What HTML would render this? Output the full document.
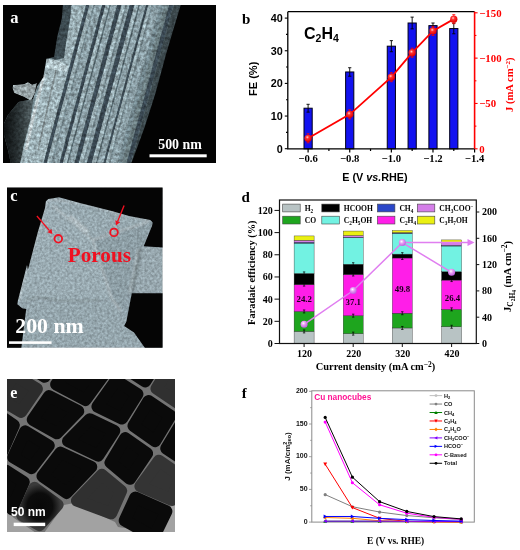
<!DOCTYPE html><html><head><meta charset="utf-8"><title>Figure</title><style>html,body{margin:0;padding:0;background:#fff;}body{width:520px;height:550px;overflow:hidden}svg{display:block}</style></head><body>
<svg width="520" height="550" viewBox="0 0 520 550">
<defs>
<filter id="soft" x="-5%" y="-5%" width="110%" height="110%"><feGaussianBlur stdDeviation="0.55"/></filter>
<filter id="soft2" x="-5%" y="-5%" width="110%" height="110%"><feGaussianBlur stdDeviation="1.2"/></filter>
<filter id="tex2" x="0" y="0" width="100%" height="100%" color-interpolation-filters="sRGB"><feTurbulence type="fractalNoise" baseFrequency="0.32" numOctaves="3" seed="11" result="n0"/><feGaussianBlur in="n0" stdDeviation="0.6" result="n1"/><feColorMatrix in="n1" type="matrix" values="0 0 0 1 0  0 0 0 1 0  0 0 0 1 0  0 0 0 0 1" result="m"/><feComposite in="SourceGraphic" in2="m" operator="arithmetic" k1="0.9" k2="0.55" k3="0" k4="0" result="b"/><feComposite in="b" in2="SourceGraphic" operator="in"/></filter>
<filter id="tex" x="0" y="0" width="100%" height="100%" color-interpolation-filters="sRGB"><feTurbulence type="fractalNoise" baseFrequency="0.4" numOctaves="2" seed="5" result="n0"/><feGaussianBlur in="n0" stdDeviation="0.5" result="n1"/><feColorMatrix in="n1" type="matrix" values="0 0 0 1 0  0 0 0 1 0  0 0 0 1 0  0 0 0 0 1" result="m"/><feComposite in="SourceGraphic" in2="m" operator="arithmetic" k1="0.5" k2="0.75" k3="0" k4="0" result="b"/><feComposite in="b" in2="SourceGraphic" operator="in"/></filter>
<radialGradient id="grim" cx="0.5" cy="0.5" r="0.6"><stop offset="0" stop-color="#080808"/><stop offset="0.6" stop-color="#0c0c0c"/><stop offset="1" stop-color="#3a3a3a"/></radialGradient>
<radialGradient id="rball" cx="0.4" cy="0.35" r="0.65"><stop offset="0" stop-color="#ffd0d0"/><stop offset="0.35" stop-color="#ff3030"/><stop offset="1" stop-color="#e00000"/></radialGradient>
<radialGradient id="pball" cx="0.4" cy="0.35" r="0.65"><stop offset="0" stop-color="#ffffff"/><stop offset="0.4" stop-color="#e8a0f4"/><stop offset="1" stop-color="#c060e0"/></radialGradient>
</defs>
<rect width="520" height="550" fill="#fff"/>
<g id="pa"><defs><clipPath id="ca"><rect x="3" y="5" width="213" height="158"/></clipPath><linearGradient id="ga" x1="0" x2="1" y1="0" y2="0"><stop offset="0" stop-color="#0c0f10"/><stop offset="0.5" stop-color="#2a3234"/><stop offset="1" stop-color="#566366"/></linearGradient></defs>
<rect x="3" y="5" width="213" height="158" fill="#030303"/>
<g clip-path="url(#ca)">
<clipPath id="cb"><polygon points="63,4 61.8,18.5 57.2,37 54,57 46.4,58.7 43.3,77.3 37,86.5 33,99 18.5,102 8,115 4,123.6 4,135 8,150 11,164 131,164 137,148 144.8,126.7 155.6,92.7 166.5,52.5 181,4"/></clipPath>
<g clip-path="url(#cb)" filter="url(#tex2)">
<polygon points="63,4 61.8,18.5 57.2,37 54,57 46.4,58.7 43.3,77.3 37,86.5 33,99 18.5,102 8,115 4,123.6 4,135 8,150 11,164 131,164 137,148 144.8,126.7 155.6,92.7 166.5,52.5 181,4" fill="#7f8b8e"/>
<g filter="url(#soft)">
<polygon points="-39.75,-5 70.25,-5 21.65,175 -88.35,175" fill="#72868d"/>
<polygon points="70.25,-5 88.75,-5 40.15,175 21.65,175" fill="#98acb2"/>
<polygon points="88.75,-5 92.25,-5 43.65,175 40.15,175" fill="#3a4a52"/>
<polygon points="92.25,-5 96.25,-5 47.65,175 43.65,175" fill="#98acb2"/>
<polygon points="96.25,-5 97.75,-5 49.15,175 47.65,175" fill="#72868d"/>
<polygon points="97.75,-5 104.85,-5 56.25,175 49.15,175" fill="#8ca0a7"/>
<polygon points="104.85,-5 108.25,-5 59.65,175 56.25,175" fill="#3a4a52"/>
<polygon points="108.25,-5 112.25,-5 63.65,175 59.65,175" fill="#98acb2"/>
<polygon points="112.25,-5 113.75,-5 65.15,175 63.65,175" fill="#52656c"/>
<polygon points="113.75,-5 119.85,-5 71.25,175 65.15,175" fill="#8ca0a7"/>
<polygon points="119.85,-5 124.25,-5 75.65,175 71.25,175" fill="#3a4a52"/>
<polygon points="124.25,-5 128.25,-5 79.65,175 75.65,175" fill="#98acb2"/>
<polygon points="128.25,-5 129.75,-5 81.15,175 79.65,175" fill="#72868d"/>
<polygon points="129.75,-5 132.25,-5 83.65,175 81.15,175" fill="#8ca0a7"/>
<polygon points="132.25,-5 137.25,-5 88.65,175 83.65,175" fill="#3a4a52"/>
<polygon points="137.25,-5 141.25,-5 92.65,175 88.65,175" fill="#98acb2"/>
<polygon points="141.25,-5 142.75,-5 94.15,175 92.65,175" fill="#52656c"/>
<polygon points="142.75,-5 148.75,-5 100.15,175 94.15,175" fill="#8ca0a7"/>
<polygon points="148.75,-5 151.05,-5 102.45,175 100.15,175" fill="#3a4a52"/>
<polygon points="151.05,-5 154.25,-5 105.65,175 102.45,175" fill="#98acb2"/>
<polygon points="154.25,-5 155.75,-5 107.15,175 105.65,175" fill="#72868d"/>
<polygon points="155.75,-5 162.55,-5 113.95,175 107.15,175" fill="#8ca0a7"/>
<polygon points="162.55,-5 167.25,-5 118.65,175 113.95,175" fill="#72868d"/>
<polygon points="167.25,-5 171.75,-5 123.15,175 118.65,175" fill="#6a7c80"/>
<polygon points="171.75,-5 176.25,-5 127.65,175 123.15,175" fill="#3a4a52"/>
<polygon points="176.25,-5 220.25,-5 171.65,175 127.65,175" fill="#3a474c"/>
</g>
<polygon points="58,0 72,0 70,20 66.5,40 64,58 56,60 50,58 54,40" fill="#3c4a50"/>
<polygon points="33,99 18.5,102 8,115 4,123.6 4,135 8,150 11,164 24,164 28,140 31,118" fill="url(#ga)"/>
<polygon points="46.4,58.7 60,61 68,66.4 63,85 56,110 49,140 43,164 20,164 24,145 30.9,117.4 37,92.7 43.3,77.3" fill="#9fb3b9"/>
<polygon points="46.4,58.7 60,61 68,66.4 66.5,72 52,69 45,68" fill="#b4c6cb"/>
<path d="M44 75 L33 118 L26 150" stroke="#c0cbce" stroke-width="3" fill="none"/>
<path d="M56 70 L47 110 L38 150" stroke="#7c888b" stroke-width="1.5" fill="none"/>
</g>
<polygon points="37,83 32,84.5 28,82 24,84 13,85 12.4,88 14,93 24,97 31,101 35,93" fill="#96a2a5" filter="url(#tex2)"/>
</g>
<text x="10.3" y="23.4" font-family="'Liberation Serif','Times New Roman',serif" font-weight="bold" font-size="16.5" fill="#fff">a</text>
<text x="180" y="149.3" font-family="'Liberation Serif','Times New Roman',serif" font-weight="bold" font-size="13.9" fill="#fff" text-anchor="middle">500 nm</text>
<rect x="149.5" y="154.3" width="57.2" height="3" fill="#fff"/>
</g>
<g id="pb">
<text x="242" y="24.3" font-family="'Liberation Serif','Times New Roman',serif" font-weight="bold" font-size="15">b</text>
<rect x="304" y="108.21" width="8.2" height="40.59" fill="#1212f0" stroke="#000018" stroke-width="1"/>
<path d="M308.1 112.13V104.3M306.5 104.3H309.7M306.5 112.13H309.7" stroke="#000" stroke-width="0.9" fill="none"/>
<rect x="345.62" y="71.97" width="8.2" height="76.83" fill="#1212f0" stroke="#000018" stroke-width="1"/>
<path d="M349.73 76.22V67.73M348.12 67.73H351.33M348.12 76.22H351.33" stroke="#000" stroke-width="0.9" fill="none"/>
<rect x="387.25" y="46.18" width="8.2" height="102.62" fill="#1212f0" stroke="#000018" stroke-width="1"/>
<path d="M391.35 51.73V40.63M389.75 40.63H392.95M389.75 51.73H392.95" stroke="#000" stroke-width="0.9" fill="none"/>
<rect x="408.06" y="23" width="8.2" height="125.8" fill="#1212f0" stroke="#000018" stroke-width="1"/>
<path d="M412.16 28.87V17.12M410.56 17.12H413.76M410.56 28.87H413.76" stroke="#000" stroke-width="0.9" fill="none"/>
<rect x="428.88" y="25.61" width="8.2" height="123.19" fill="#1212f0" stroke="#000018" stroke-width="1"/>
<path d="M432.98 28.22V23M431.38 23H434.58M431.38 28.22H434.58" stroke="#000" stroke-width="0.9" fill="none"/>
<rect x="449.69" y="28.55" width="8.2" height="120.25" fill="#1212f0" stroke="#000018" stroke-width="1"/>
<path d="M453.79 33.77V23.32M452.19 23.32H455.39M452.19 33.77H455.39" stroke="#000" stroke-width="0.9" fill="none"/>
<path d="M287.8 11.7H474.6M287.8 11.7V148.8H474.6" stroke="#000" stroke-width="1.3" fill="none"/>
<path d="M474.6 11.7V148.8" stroke="#f00" stroke-width="1.6" fill="none"/>
<path d="M284.8 148.7H287.8" stroke="#000" stroke-width="1.1"/>
<text x="282.8" y="152.6" font-family="'Liberation Sans',Arial,sans-serif" font-weight="bold" font-size="10.8" text-anchor="end">0</text>
<path d="M286 132.38H287.8" stroke="#000" stroke-width="1.1"/>
<path d="M284.8 116.05H287.8" stroke="#000" stroke-width="1.1"/>
<text x="282.8" y="119.95" font-family="'Liberation Sans',Arial,sans-serif" font-weight="bold" font-size="10.8" text-anchor="end">10</text>
<path d="M286 99.72H287.8" stroke="#000" stroke-width="1.1"/>
<path d="M284.8 83.4H287.8" stroke="#000" stroke-width="1.1"/>
<text x="282.8" y="87.3" font-family="'Liberation Sans',Arial,sans-serif" font-weight="bold" font-size="10.8" text-anchor="end">20</text>
<path d="M286 67.07H287.8" stroke="#000" stroke-width="1.1"/>
<path d="M284.8 50.75H287.8" stroke="#000" stroke-width="1.1"/>
<text x="282.8" y="54.65" font-family="'Liberation Sans',Arial,sans-serif" font-weight="bold" font-size="10.8" text-anchor="end">30</text>
<path d="M286 34.42H287.8" stroke="#000" stroke-width="1.1"/>
<path d="M284.8 18.1H287.8" stroke="#000" stroke-width="1.1"/>
<text x="282.8" y="22" font-family="'Liberation Sans',Arial,sans-serif" font-weight="bold" font-size="10.8" text-anchor="end">40</text>
<path d="M308.1 148.8V152.6" stroke="#000" stroke-width="1.2"/>
<path d="M328.91 148.8V151" stroke="#000" stroke-width="1.2"/>
<path d="M349.73 148.8V152.6" stroke="#000" stroke-width="1.2"/>
<path d="M370.54 148.8V151" stroke="#000" stroke-width="1.2"/>
<path d="M391.35 148.8V152.6" stroke="#000" stroke-width="1.2"/>
<path d="M412.16 148.8V151" stroke="#000" stroke-width="1.2"/>
<path d="M432.98 148.8V152.6" stroke="#000" stroke-width="1.2"/>
<path d="M453.79 148.8V151" stroke="#000" stroke-width="1.2"/>
<path d="M474.6 148.8V152.6" stroke="#000" stroke-width="1.2"/>
<text x="308.1" y="162.4" font-family="'Liberation Serif','Times New Roman',serif" font-weight="bold" font-size="10.7" text-anchor="middle">−0.6</text>
<text x="349.73" y="162.4" font-family="'Liberation Serif','Times New Roman',serif" font-weight="bold" font-size="10.7" text-anchor="middle">−0.8</text>
<text x="391.35" y="162.4" font-family="'Liberation Serif','Times New Roman',serif" font-weight="bold" font-size="10.7" text-anchor="middle">−1.0</text>
<text x="432.98" y="162.4" font-family="'Liberation Serif','Times New Roman',serif" font-weight="bold" font-size="10.7" text-anchor="middle">−1.2</text>
<text x="474.6" y="162.4" font-family="'Liberation Serif','Times New Roman',serif" font-weight="bold" font-size="10.7" text-anchor="middle">−1.4</text>
<path d="M474.6 148.8H477.6" stroke="#f00" stroke-width="1.1"/>
<text x="479.2" y="152.6" font-family="'Liberation Serif','Times New Roman',serif" font-weight="bold" font-size="10.8" fill="#f00">0</text>
<path d="M474.6 126.13H476.4" stroke="#f00" stroke-width="1.1"/>
<path d="M474.6 103.47H477.6" stroke="#f00" stroke-width="1.1"/>
<text x="479.2" y="107.27" font-family="'Liberation Serif','Times New Roman',serif" font-weight="bold" font-size="10.8" fill="#f00">−50</text>
<path d="M474.6 80.8H476.4" stroke="#f00" stroke-width="1.1"/>
<path d="M474.6 58.13H477.6" stroke="#f00" stroke-width="1.1"/>
<text x="479.2" y="61.93" font-family="'Liberation Serif','Times New Roman',serif" font-weight="bold" font-size="10.8" fill="#f00">−100</text>
<path d="M474.6 35.46H476.4" stroke="#f00" stroke-width="1.1"/>
<path d="M474.6 12.8H477.6" stroke="#f00" stroke-width="1.1"/>
<text x="479.2" y="16.6" font-family="'Liberation Serif','Times New Roman',serif" font-weight="bold" font-size="10.8" fill="#f00">−150</text>
<text transform="translate(257.4 78.8) rotate(-90)" font-family="'Liberation Sans',Arial,sans-serif" font-weight="bold" font-size="11" text-anchor="middle">FE (%)</text>
<text transform="translate(513.3 84.7) rotate(-90)" font-family="'Liberation Serif','Times New Roman',serif" font-weight="bold" font-size="10.6" fill="#f00" text-anchor="middle">J (mA cm<tspan dy="-3.5" font-size="7">−2</tspan><tspan dy="3.5">)</tspan></text>
<text x="304" y="38.5" font-family="'Liberation Sans',Arial,sans-serif" font-weight="bold" font-size="16">C<tspan font-size="10.5" dy="3">2</tspan><tspan dy="-3">H</tspan><tspan font-size="10.5" dy="3">4</tspan></text>
<text x="342.2" y="181.3" font-family="'Liberation Sans',Arial,sans-serif" font-weight="bold" font-size="10.8">E (V <tspan font-style="italic">vs.</tspan>RHE)</text>
<path d="M308.1 138.28 L349.73 114.35 L391.35 77.17 L412.16 52.69 L432.98 30.93 L453.79 19.14" stroke="#f00" stroke-width="1.8" fill="none"/>
<path d="M308.1 142.82V133.75M306.6 133.75H309.6M306.6 142.82H309.6" stroke="#f00" stroke-width="0.8" fill="none"/>
<path d="M349.73 118.88V109.81M348.23 109.81H351.23M348.23 118.88H351.23" stroke="#f00" stroke-width="0.8" fill="none"/>
<path d="M391.35 81.7V72.64M389.85 72.64H392.85M389.85 81.7H392.85" stroke="#f00" stroke-width="0.8" fill="none"/>
<path d="M412.16 57.22V48.16M410.66 48.16H413.66M410.66 57.22H413.66" stroke="#f00" stroke-width="0.8" fill="none"/>
<path d="M432.98 35.46V26.4M431.48 26.4H434.48M431.48 35.46H434.48" stroke="#f00" stroke-width="0.8" fill="none"/>
<path d="M453.79 23.68V14.61M452.29 14.61H455.29M452.29 23.68H455.29" stroke="#f00" stroke-width="0.8" fill="none"/>
<circle cx="308.1" cy="138.28" r="3.6" fill="url(#rball)"/>
<circle cx="349.73" cy="114.35" r="3.6" fill="url(#rball)"/>
<circle cx="391.35" cy="77.17" r="3.6" fill="url(#rball)"/>
<circle cx="412.16" cy="52.69" r="3.6" fill="url(#rball)"/>
<circle cx="432.98" cy="30.93" r="3.6" fill="url(#rball)"/>
<circle cx="453.79" cy="19.14" r="3.6" fill="url(#rball)"/>
</g>
<g id="pc">
<clipPath id="cc"><rect x="7" y="187.5" width="155.6" height="160.3"/></clipPath>
<g clip-path="url(#cc)">
<g filter="url(#tex)">
<rect x="7" y="187.5" width="155.6" height="160.3" fill="#8fa0a8"/>
<g filter="url(#soft2)">
<polygon points="46.4,200.5 150.4,221 92.7,240" fill="#97a8af"/>
<polygon points="46.4,200.5 92.7,240 111.8,298.6 65,300 35.5,296 17,304 27,265 45,208" fill="#9aabb2"/>
<polygon points="92.7,240 150.4,221 152,226 142,247 130,294 120,309.5 111.8,298.6" fill="#8d9ea5"/>
<polygon points="17,304 35.5,296 65.5,300 111.8,298.6 120,309.5 134,330 145,348 21,348" fill="#95a6ad"/>
<path d="M24 301 L36 297 L65 301 L100 300" stroke="#7e8a8d" stroke-width="2.5" fill="none" opacity="0.55"/>
<polygon points="140.5,247 163,247 163,293.3 131.8,293.3" fill="#97a7ae"/>
<path d="M141 248 L132.5 293" stroke="#6d787c" stroke-width="2.2" fill="none"/>
<path d="M138 249 L129.5 293" stroke="#b8c2c4" stroke-width="1.5" fill="none" opacity="0.7"/>
<path d="M52 205 L92.7 240 M92.7 240 L148 222 M92.7 240 L111.8 298.6 L121 311" stroke="#b9c2c4" stroke-width="1.6" fill="none" opacity="0.75"/>
<path d="M70 216 L88 232" stroke="#c6cfd1" stroke-width="3" fill="none" opacity="0.7"/>
<path d="M19 300 L27 266 L38 232 L45.5 205 Q47 199.5 52 199.3 L80 203.5 L113 211.5 L150 220.5" stroke="#bfcacd" stroke-width="2.2" fill="none" opacity="0.65"/>
</g>
</g>
<polygon points="7,187 163,187 163,247.5 143.7,246.3 152,225.9 152.7,222.6 150.3,220.1 129,216 112.7,211.2 80,203 59,197.3 48.3,198.9 45.9,201.3 45,208 37.7,232.4 27.9,270 27,265 18,300 17.3,304.2 22.2,308.3 26.2,309.1 21.3,348 7,348" fill="#050505"/>
<polygon points="131.8,293.3 163,293.3 163,348 145,348 134,332.6 124.2,326 126.4,321.6" fill="#050505"/>
</g>
<text x="10.2" y="201.2" font-family="'Liberation Serif','Times New Roman',serif" font-weight="bold" font-size="16.5" fill="#fff">c</text>
<path d="M36.9 216L49.46 230.59" stroke="#f01020" stroke-width="1.4"/>
<polygon points="52.4,234 51.43,228.89 47.49,232.29" fill="#f01020"/>
<path d="M124.1 205.4L117.68 221.33" stroke="#f01020" stroke-width="1.4"/>
<polygon points="116,225.5 120.09,222.3 115.27,220.35" fill="#f01020"/>
<circle cx="58.3" cy="238.8" r="3.8" stroke="#f01020" stroke-width="1.8" fill="none"/>
<circle cx="114" cy="232.4" r="3.8" stroke="#f01020" stroke-width="1.8" fill="none"/>
<text x="67.8" y="261.8" font-family="'Liberation Serif','Times New Roman',serif" font-weight="bold" font-size="21.2" fill="#f01020">Porous</text>
<text x="15.3" y="332.5" font-family="'Liberation Serif','Times New Roman',serif" font-weight="bold" font-size="21.8" fill="#fff">200 nm</text>
<rect x="9" y="341.3" width="42.6" height="2.6" fill="#fff"/>
</g>
<g id="pd">
<text x="241.5" y="201.6" font-family="'Liberation Serif','Times New Roman',serif" font-weight="bold" font-size="15">d</text>
<rect x="294.1" y="331.41" width="20" height="12.09" fill="#b8c3c4" stroke="#222" stroke-width="0.35"/>
<rect x="294.1" y="311.45" width="20" height="19.96" fill="#1ea51e" stroke="#222" stroke-width="0.35"/>
<rect x="294.1" y="284.61" width="20" height="26.84" fill="#ff1ee8" stroke="#222" stroke-width="0.35"/>
<rect x="294.1" y="273.41" width="20" height="11.2" fill="#000000" stroke="#222" stroke-width="0.35"/>
<rect x="294.1" y="243.14" width="20" height="30.28" fill="#72f2e2" stroke="#222" stroke-width="0.35"/>
<rect x="294.1" y="242.3" width="20" height="0.83" fill="#2a46c8" stroke="#222" stroke-width="0.35"/>
<rect x="294.1" y="240.25" width="20" height="2.05" fill="#d47ee8" stroke="#222" stroke-width="0.35"/>
<rect x="294.1" y="235.93" width="20" height="4.33" fill="#eaf012" stroke="#222" stroke-width="0.35"/>
<path d="M304.1 329.91V332.91M302.9 329.91H305.3M302.9 332.91H305.3" stroke="#000" stroke-width="0.7"/>
<path d="M304.1 309.95V312.95M302.9 309.95H305.3M302.9 312.95H305.3" stroke="#000" stroke-width="0.7"/>
<path d="M304.1 283.11V286.11M302.9 283.11H305.3M302.9 286.11H305.3" stroke="#000" stroke-width="0.7"/>
<path d="M304.1 271.91V274.91M302.9 271.91H305.3M302.9 274.91H305.3" stroke="#000" stroke-width="0.7"/>
<rect x="343.2" y="333.63" width="20" height="9.87" fill="#b8c3c4" stroke="#222" stroke-width="0.35"/>
<rect x="343.2" y="315.66" width="20" height="17.97" fill="#1ea51e" stroke="#222" stroke-width="0.35"/>
<rect x="343.2" y="274.52" width="20" height="41.14" fill="#ff1ee8" stroke="#222" stroke-width="0.35"/>
<rect x="343.2" y="264.21" width="20" height="10.31" fill="#000000" stroke="#222" stroke-width="0.35"/>
<rect x="343.2" y="237.7" width="20" height="26.51" fill="#72f2e2" stroke="#222" stroke-width="0.35"/>
<rect x="343.2" y="237.26" width="20" height="0.44" fill="#2a46c8" stroke="#222" stroke-width="0.35"/>
<rect x="343.2" y="235.48" width="20" height="1.77" fill="#d47ee8" stroke="#222" stroke-width="0.35"/>
<rect x="343.2" y="231.05" width="20" height="4.44" fill="#eaf012" stroke="#222" stroke-width="0.35"/>
<path d="M353.2 332.13V335.13M352 332.13H354.4M352 335.13H354.4" stroke="#000" stroke-width="0.7"/>
<path d="M353.2 314.16V317.16M352 314.16H354.4M352 317.16H354.4" stroke="#000" stroke-width="0.7"/>
<path d="M353.2 273.02V276.02M352 273.02H354.4M352 276.02H354.4" stroke="#000" stroke-width="0.7"/>
<path d="M353.2 262.71V265.71M352 262.71H354.4M352 265.71H354.4" stroke="#000" stroke-width="0.7"/>
<rect x="392.3" y="327.97" width="20" height="15.53" fill="#b8c3c4" stroke="#222" stroke-width="0.35"/>
<rect x="392.3" y="313.22" width="20" height="14.75" fill="#1ea51e" stroke="#222" stroke-width="0.35"/>
<rect x="392.3" y="258" width="20" height="55.23" fill="#ff1ee8" stroke="#222" stroke-width="0.35"/>
<rect x="392.3" y="254.11" width="20" height="3.88" fill="#000000" stroke="#222" stroke-width="0.35"/>
<rect x="392.3" y="233.38" width="20" height="20.74" fill="#72f2e2" stroke="#222" stroke-width="0.35"/>
<rect x="392.3" y="233.04" width="20" height="0.33" fill="#2a46c8" stroke="#222" stroke-width="0.35"/>
<rect x="392.3" y="232.6" width="20" height="0.44" fill="#d47ee8" stroke="#222" stroke-width="0.35"/>
<rect x="392.3" y="230.49" width="20" height="2.11" fill="#eaf012" stroke="#222" stroke-width="0.35"/>
<path d="M402.3 326.47V329.47M401.1 326.47H403.5M401.1 329.47H403.5" stroke="#000" stroke-width="0.7"/>
<path d="M402.3 311.72V314.72M401.1 311.72H403.5M401.1 314.72H403.5" stroke="#000" stroke-width="0.7"/>
<path d="M402.3 256.5V259.5M401.1 256.5H403.5M401.1 259.5H403.5" stroke="#000" stroke-width="0.7"/>
<path d="M402.3 252.61V255.61M401.1 252.61H403.5M401.1 255.61H403.5" stroke="#000" stroke-width="0.7"/>
<rect x="441.6" y="326.75" width="20" height="16.75" fill="#b8c3c4" stroke="#222" stroke-width="0.35"/>
<rect x="441.6" y="309.34" width="20" height="17.41" fill="#1ea51e" stroke="#222" stroke-width="0.35"/>
<rect x="441.6" y="280.07" width="20" height="29.28" fill="#ff1ee8" stroke="#222" stroke-width="0.35"/>
<rect x="441.6" y="271.64" width="20" height="8.43" fill="#000000" stroke="#222" stroke-width="0.35"/>
<rect x="441.6" y="246.02" width="20" height="25.62" fill="#72f2e2" stroke="#222" stroke-width="0.35"/>
<rect x="441.6" y="245.46" width="20" height="0.55" fill="#2a46c8" stroke="#222" stroke-width="0.35"/>
<rect x="441.6" y="242.69" width="20" height="2.77" fill="#d47ee8" stroke="#222" stroke-width="0.35"/>
<rect x="441.6" y="239.92" width="20" height="2.77" fill="#eaf012" stroke="#222" stroke-width="0.35"/>
<path d="M451.6 325.25V328.25M450.4 325.25H452.8M450.4 328.25H452.8" stroke="#000" stroke-width="0.7"/>
<path d="M451.6 307.84V310.84M450.4 307.84H452.8M450.4 310.84H452.8" stroke="#000" stroke-width="0.7"/>
<path d="M451.6 278.57V281.57M450.4 278.57H452.8M450.4 281.57H452.8" stroke="#000" stroke-width="0.7"/>
<path d="M451.6 270.14V273.14M450.4 270.14H452.8M450.4 273.14H452.8" stroke="#000" stroke-width="0.7"/>
<rect x="279.5" y="200" width="196.8" height="143.5" fill="none" stroke="#111" stroke-width="1.2"/>
<path d="M274.5 343.5H279.5" stroke="#111" stroke-width="1"/>
<text x="272.8" y="346.9" font-family="'Liberation Serif','Times New Roman',serif" font-weight="bold" font-size="10" text-anchor="end">0</text>
<path d="M274.5 321.32H279.5" stroke="#111" stroke-width="1"/>
<text x="272.8" y="324.72" font-family="'Liberation Serif','Times New Roman',serif" font-weight="bold" font-size="10" text-anchor="end">20</text>
<path d="M274.5 299.14H279.5" stroke="#111" stroke-width="1"/>
<text x="272.8" y="302.54" font-family="'Liberation Serif','Times New Roman',serif" font-weight="bold" font-size="10" text-anchor="end">40</text>
<path d="M274.5 276.96H279.5" stroke="#111" stroke-width="1"/>
<text x="272.8" y="280.36" font-family="'Liberation Serif','Times New Roman',serif" font-weight="bold" font-size="10" text-anchor="end">60</text>
<path d="M274.5 254.78H279.5" stroke="#111" stroke-width="1"/>
<text x="272.8" y="258.18" font-family="'Liberation Serif','Times New Roman',serif" font-weight="bold" font-size="10" text-anchor="end">80</text>
<path d="M274.5 232.6H279.5" stroke="#111" stroke-width="1"/>
<text x="272.8" y="236" font-family="'Liberation Serif','Times New Roman',serif" font-weight="bold" font-size="10" text-anchor="end">100</text>
<path d="M274.5 210.42H279.5" stroke="#111" stroke-width="1"/>
<text x="272.8" y="213.82" font-family="'Liberation Serif','Times New Roman',serif" font-weight="bold" font-size="10" text-anchor="end">120</text>
<path d="M476.3 343.5H479.3" stroke="#111" stroke-width="1"/>
<text x="482" y="346.9" font-family="'Liberation Serif','Times New Roman',serif" font-weight="bold" font-size="10">0</text>
<path d="M476.3 317.2H479.3" stroke="#111" stroke-width="1"/>
<text x="482" y="320.6" font-family="'Liberation Serif','Times New Roman',serif" font-weight="bold" font-size="10">40</text>
<path d="M476.3 290.9H479.3" stroke="#111" stroke-width="1"/>
<text x="482" y="294.3" font-family="'Liberation Serif','Times New Roman',serif" font-weight="bold" font-size="10">80</text>
<path d="M476.3 264.6H479.3" stroke="#111" stroke-width="1"/>
<text x="482" y="268" font-family="'Liberation Serif','Times New Roman',serif" font-weight="bold" font-size="10">120</text>
<path d="M476.3 238.3H479.3" stroke="#111" stroke-width="1"/>
<text x="482" y="241.7" font-family="'Liberation Serif','Times New Roman',serif" font-weight="bold" font-size="10">160</text>
<path d="M476.3 212H479.3" stroke="#111" stroke-width="1"/>
<text x="482" y="215.4" font-family="'Liberation Serif','Times New Roman',serif" font-weight="bold" font-size="10">200</text>
<path d="M304.1 343.5V347" stroke="#111" stroke-width="1"/>
<text x="304.6" y="357.3" font-family="'Liberation Serif','Times New Roman',serif" font-weight="bold" font-size="10" text-anchor="middle">120</text>
<path d="M353.2 343.5V347" stroke="#111" stroke-width="1"/>
<text x="353.7" y="357.3" font-family="'Liberation Serif','Times New Roman',serif" font-weight="bold" font-size="10" text-anchor="middle">220</text>
<path d="M402.3 343.5V347" stroke="#111" stroke-width="1"/>
<text x="402.8" y="357.3" font-family="'Liberation Serif','Times New Roman',serif" font-weight="bold" font-size="10" text-anchor="middle">320</text>
<path d="M451.6 343.5V347" stroke="#111" stroke-width="1"/>
<text x="452.1" y="357.3" font-family="'Liberation Serif','Times New Roman',serif" font-weight="bold" font-size="10" text-anchor="middle">420</text>
<text x="375.5" y="370" font-family="'Liberation Serif','Times New Roman',serif" font-weight="bold" font-size="10.4" text-anchor="middle">Current density (mA cm<tspan dy="-3.5" font-size="7.5">−2</tspan><tspan dy="3.5">)</tspan></text>
<text transform="translate(254.6 272.7) rotate(-90)" font-family="'Liberation Serif','Times New Roman',serif" font-weight="bold" font-size="10.4" text-anchor="middle">Faradaic efficiency (%)</text>
<text transform="translate(510.7 276.5) rotate(-90)" font-family="'Liberation Serif','Times New Roman',serif" font-weight="bold" font-size="10.4" text-anchor="middle">J<tspan font-size="7.5" dy="2.5">C<tspan font-size="5.5" dy="1.5">2</tspan>H<tspan font-size="5.5" dy="1.5">4</tspan></tspan><tspan dy="-5.5"> (mA cm</tspan><tspan dy="-3.5" font-size="7.5">−2</tspan><tspan dy="3.5">)</tspan></text>
<text x="304.2" y="302" font-family="'Liberation Serif','Times New Roman',serif" font-weight="bold" font-size="8.8" fill="#1a001a" text-anchor="middle">24.2</text>
<text x="353.3" y="305.2" font-family="'Liberation Serif','Times New Roman',serif" font-weight="bold" font-size="8.8" fill="#1a001a" text-anchor="middle">37.1</text>
<text x="402.5" y="292" font-family="'Liberation Serif','Times New Roman',serif" font-weight="bold" font-size="8.8" fill="#1a001a" text-anchor="middle">49.8</text>
<text x="452.5" y="301.2" font-family="'Liberation Serif','Times New Roman',serif" font-weight="bold" font-size="8.8" fill="#1a001a" text-anchor="middle">26.4</text>
<rect x="282.7" y="204.1" width="17.5" height="7.8" fill="#b8c3c4" stroke="#444" stroke-width="0.6"/>
<text x="304.7" y="211.1" font-family="'Liberation Serif','Times New Roman',serif" font-weight="bold" font-size="7.6">H<tspan font-size="5.2" dy="1.8">2</tspan></text>
<rect x="321.8" y="204.1" width="17.5" height="7.8" fill="#000000" stroke="#444" stroke-width="0.6"/>
<text x="343.8" y="211.1" font-family="'Liberation Serif','Times New Roman',serif" font-weight="bold" font-size="7.6">HCOOH</text>
<rect x="377.4" y="204.1" width="17.5" height="7.8" fill="#2a46c8" stroke="#444" stroke-width="0.6"/>
<text x="399.4" y="211.1" font-family="'Liberation Serif','Times New Roman',serif" font-weight="bold" font-size="7.6">CH<tspan font-size="5.2" dy="1.8">4</tspan></text>
<rect x="417.3" y="204.1" width="17.5" height="7.8" fill="#d47ee8" stroke="#444" stroke-width="0.6"/>
<text x="439.3" y="211.1" font-family="'Liberation Serif','Times New Roman',serif" font-weight="bold" font-size="7.6">CH<tspan font-size="5.2" dy="1.8">3</tspan><tspan dy="-1.8">COO</tspan><tspan font-size="5.2" dy="-3">−</tspan></text>
<rect x="282.7" y="216.2" width="17.5" height="7.8" fill="#1ea51e" stroke="#444" stroke-width="0.6"/>
<text x="304.7" y="223.2" font-family="'Liberation Serif','Times New Roman',serif" font-weight="bold" font-size="7.6">CO</text>
<rect x="321.8" y="216.2" width="17.5" height="7.8" fill="#72f2e2" stroke="#444" stroke-width="0.6"/>
<text x="343.8" y="223.2" font-family="'Liberation Serif','Times New Roman',serif" font-weight="bold" font-size="7.6">C<tspan font-size="5.2" dy="1.8">2</tspan><tspan dy="-1.8">H</tspan><tspan font-size="5.2" dy="1.8">5</tspan><tspan dy="-1.8">OH</tspan></text>
<rect x="377.4" y="216.2" width="17.5" height="7.8" fill="#ff1ee8" stroke="#444" stroke-width="0.6"/>
<text x="399.4" y="223.2" font-family="'Liberation Serif','Times New Roman',serif" font-weight="bold" font-size="7.6">C<tspan font-size="5.2" dy="1.8">2</tspan><tspan dy="-1.8">H</tspan><tspan font-size="5.2" dy="1.8">4</tspan></text>
<rect x="417.3" y="216.2" width="17.5" height="7.8" fill="#eaf012" stroke="#444" stroke-width="0.6"/>
<text x="439.3" y="223.2" font-family="'Liberation Serif','Times New Roman',serif" font-weight="bold" font-size="7.6">C<tspan font-size="5.2" dy="1.8">3</tspan><tspan dy="-1.8">H</tspan><tspan font-size="5.2" dy="1.8">7</tspan><tspan dy="-1.8">OH</tspan></text>
<path d="M304.1 324.3 L353.2 290.5 L402.3 242.6 L451.6 272.3" stroke="#e07ef0" stroke-width="1.5" fill="none"/>
<path d="M402.3 242.5H469" stroke="#e07ef0" stroke-width="1.6"/>
<polygon points="474.5,242.5 467.5,239 467.5,246" fill="#e07ef0"/>
<circle cx="304.1" cy="324.3" r="3.5" fill="url(#pball)"/>
<circle cx="353.2" cy="290.5" r="3.5" fill="url(#pball)"/>
<circle cx="402.3" cy="242.6" r="3.5" fill="url(#pball)"/>
<circle cx="451.6" cy="272.3" r="3.5" fill="url(#pball)"/>
</g>
<g id="pe">
<clipPath id="ce"><rect x="7" y="379" width="168" height="153"/></clipPath>
<g clip-path="url(#ce)">
<rect x="7" y="379" width="168" height="153" fill="#a2a2a2"/>
<polygon points="0,340 200,340 200,470 175,505 160,510 150,532 118,527 115,522 74,503 64,505 44,533 36,533 14,518 0,505" fill="#747474"/>
<polygon points="37.87,339.72 60.96,352.62 44.75,376.76 22.08,363.01" fill="#0c0c0c" stroke="#0c0c0c" stroke-width="12.0" stroke-linejoin="round"/>
<polygon points="73.54,359.42 105.08,373.04 85.45,399.94 56.17,384.38" fill="#0a0a0a" stroke="#0a0a0a" stroke-width="12.0" stroke-linejoin="round"/>
<polygon points="115.93,380.52 137.43,394.1 122.01,418.58 97.44,406.52" fill="#0a0a0a" stroke="#0a0a0a" stroke-width="12.0" stroke-linejoin="round"/>
<polygon points="171.72,363.75 194.43,378.51 178.42,403.23 156.46,388.62" fill="#303030" stroke="#303030" stroke-width="12.0" stroke-linejoin="round"/>
<polygon points="138.76,343.74 160.53,356.88 145.29,381.43 124.18,367.86" fill="#0a0a0a" stroke="#0a0a0a" stroke-width="12.0" stroke-linejoin="round"/>
<polygon points="148.54,400.96 170.47,415.67 155.13,441.23 133.47,425.76" fill="#0a0a0a" stroke="#0a0a0a" stroke-width="12.0" stroke-linejoin="round"/>
<polygon points="14.32,375.23 36.89,388.87 21.18,411.97 -1.39,398.33" fill="#2c2c2c" stroke="#2c2c2c" stroke-width="12.0" stroke-linejoin="round"/>
<polygon points="48.99,396.08 78.24,411.13 56.77,433.22 32.69,419.66" fill="#0a0a0a" stroke="#0a0a0a" stroke-width="12.0" stroke-linejoin="round"/>
<polygon points="89.74,419.24 114.33,430.81 98.27,455.49 68.02,441.15" fill="#0a0a0a" stroke="#0a0a0a" stroke-width="12.0" stroke-linejoin="round"/>
<polygon points="125.27,438.1 147.11,453.43 129.93,478.84 110.6,462.61" fill="#0a0a0a" stroke="#0a0a0a" stroke-width="12.0" stroke-linejoin="round"/>
<polygon points="158.89,460.65 180.47,475.66 172,499.95 140.39,486.26" fill="#343434" stroke="#343434" stroke-width="12.0" stroke-linejoin="round"/>
<polygon points="181.67,422.76 204.4,438.41 188.42,463.23 166.25,448.4" fill="#0a0a0a" stroke="#0a0a0a" stroke-width="12.0" stroke-linejoin="round"/>
<polygon points="-7.88,410.09 13.75,425.23 2.38,451.24 -11.08,435.71" fill="#0c0c0c" stroke="#0c0c0c" stroke-width="12.0" stroke-linejoin="round"/>
<polygon points="25.15,431.36 48.76,445.63 31.54,468.17 13.21,457.36" fill="#0a0a0a" stroke="#0a0a0a" stroke-width="12.0" stroke-linejoin="round"/>
<polygon points="60.46,452.66 91.29,466.93 66.5,492.93 42.44,476.24" fill="#0a0a0a" stroke="#0a0a0a" stroke-width="12.0" stroke-linejoin="round"/>
<polygon points="101.84,474.86 121.14,490.84 111.22,513.35 76.96,500.65" fill="#303030" stroke="#303030" stroke-width="12.0" stroke-linejoin="round"/>
<polygon points="135.28,497.52 166.38,511.34 153.99,536.95 124.71,520.57" fill="#0a0a0a" stroke="#0a0a0a" stroke-width="12.0" stroke-linejoin="round"/>
<polygon points="6.1,470.67 23.67,482.06 12.02,509.15 -0.63,491.82" fill="#0a0a0a" stroke="#0a0a0a" stroke-width="12.0" stroke-linejoin="round"/>
<polygon points="34.46,487.74 57.6,504.77 39.34,525.12 22.16,515.26" fill="url(#grim)" stroke="url(#grim)" stroke-width="12.0" stroke-linejoin="round"/>
</g>
<text x="10.2" y="398.3" font-family="'Liberation Serif','Times New Roman',serif" font-weight="bold" font-size="16" fill="#fff">e</text>
<text x="11" y="515.8" font-family="'Liberation Sans',Arial,sans-serif" font-weight="bold" font-size="12" fill="#fff">50 nm</text>
<rect x="13.7" y="522.7" width="31.5" height="3.4" fill="#fff"/>
</g>
<g id="pf">
<text x="241.8" y="397.9" font-family="'Liberation Serif','Times New Roman',serif" font-weight="bold" font-size="15">f</text>
<rect x="311.8" y="390.8" width="162.5" height="131.3" fill="none" stroke="#8a8a8a" stroke-width="1"/>
<path d="M309 522.1H311.8" stroke="#8a8a8a" stroke-width="0.8"/>
<text x="307.6" y="523.7" font-family="'Liberation Sans',Arial,sans-serif" font-weight="bold" font-size="7" text-anchor="end" fill="#111">0</text>
<path d="M310.2 505.75H311.8" stroke="#8a8a8a" stroke-width="0.8"/>
<path d="M309 489.4H311.8" stroke="#8a8a8a" stroke-width="0.8"/>
<text x="307.6" y="491" font-family="'Liberation Sans',Arial,sans-serif" font-weight="bold" font-size="7" text-anchor="end" fill="#111">50</text>
<path d="M310.2 473.05H311.8" stroke="#8a8a8a" stroke-width="0.8"/>
<path d="M309 456.7H311.8" stroke="#8a8a8a" stroke-width="0.8"/>
<text x="307.6" y="458.3" font-family="'Liberation Sans',Arial,sans-serif" font-weight="bold" font-size="7" text-anchor="end" fill="#111">100</text>
<path d="M310.2 440.35H311.8" stroke="#8a8a8a" stroke-width="0.8"/>
<path d="M309 424H311.8" stroke="#8a8a8a" stroke-width="0.8"/>
<text x="307.6" y="425.6" font-family="'Liberation Sans',Arial,sans-serif" font-weight="bold" font-size="7" text-anchor="end" fill="#111">150</text>
<path d="M310.2 407.65H311.8" stroke="#8a8a8a" stroke-width="0.8"/>
<path d="M309 391.3H311.8" stroke="#8a8a8a" stroke-width="0.8"/>
<text x="307.6" y="392.9" font-family="'Liberation Sans',Arial,sans-serif" font-weight="bold" font-size="7" text-anchor="end" fill="#111">200</text>
<path d="M325.2 522.1V520.6" stroke="#8a8a8a" stroke-width="0.6"/>
<path d="M352.4 522.1V520.6" stroke="#8a8a8a" stroke-width="0.6"/>
<path d="M379.6 522.1V520.6" stroke="#8a8a8a" stroke-width="0.6"/>
<path d="M406.8 522.1V520.6" stroke="#8a8a8a" stroke-width="0.6"/>
<path d="M434 522.1V520.6" stroke="#8a8a8a" stroke-width="0.6"/>
<path d="M461.2 522.1V520.6" stroke="#8a8a8a" stroke-width="0.6"/>
<text transform="translate(289.5 456.5) rotate(-90)" font-family="'Liberation Sans',Arial,sans-serif" font-weight="bold" font-size="8" text-anchor="middle" fill="#222">J (mA/cm<tspan font-size="5.5" dy="-3">2</tspan><tspan font-size="5.5" dy="4.5" dx="-3">geo</tspan><tspan dy="-1.5">)</tspan></text>
<text x="395.6" y="543.6" font-family="'Liberation Serif','Times New Roman',serif" font-weight="bold" font-size="9.4" text-anchor="middle">E (V vs. RHE)</text>
<text x="314.2" y="400.2" font-family="'Liberation Sans',Arial,sans-serif" font-weight="bold" font-size="8.3" fill="#ff1493">Cu nanocubes</text>
<path d="M325.2 521.32 L352.4 521.32 L379.6 521.32 L406.8 521.38 L434 521.51 L461.2 521.64" stroke="#c0c0c0" stroke-width="1" fill="none"/>
<circle cx="325.2" cy="521.32" r="1.6" fill="#c0c0c0"/>
<circle cx="352.4" cy="521.32" r="1.6" fill="#c0c0c0"/>
<circle cx="379.6" cy="521.32" r="1.6" fill="#c0c0c0"/>
<circle cx="406.8" cy="521.38" r="1.6" fill="#c0c0c0"/>
<circle cx="434" cy="521.51" r="1.6" fill="#c0c0c0"/>
<circle cx="461.2" cy="521.64" r="1.6" fill="#c0c0c0"/>
<path d="M325.2 494.63 L352.4 506.73 L379.6 512.03 L406.8 515.56 L434 517.78 L461.2 519.48" stroke="#808080" stroke-width="1" fill="none"/>
<circle cx="325.2" cy="494.63" r="1.6" fill="#808080"/>
<circle cx="352.4" cy="506.73" r="1.6" fill="#808080"/>
<circle cx="379.6" cy="512.03" r="1.6" fill="#808080"/>
<circle cx="406.8" cy="515.56" r="1.6" fill="#808080"/>
<circle cx="434" cy="517.78" r="1.6" fill="#808080"/>
<circle cx="461.2" cy="519.48" r="1.6" fill="#808080"/>
<path d="M325.2 521.25 L352.4 521.25 L379.6 521.25 L406.8 521.38 L434 521.51 L461.2 521.64" stroke="#008000" stroke-width="1" fill="none"/>
<polygon points="325.2,519.33 323.28,522.85 327.12,522.85" fill="#008000"/>
<polygon points="352.4,519.33 350.48,522.85 354.32,522.85" fill="#008000"/>
<polygon points="379.6,519.33 377.68,522.85 381.52,522.85" fill="#008000"/>
<polygon points="406.8,519.46 404.88,522.98 408.72,522.98" fill="#008000"/>
<polygon points="434,519.59 432.08,523.11 435.92,523.11" fill="#008000"/>
<polygon points="461.2,519.72 459.28,523.24 463.12,523.24" fill="#008000"/>
<path d="M325.2 464.22 L352.4 507.58 L379.6 518.31 L406.8 521.45 L434 521.77 L461.2 521.97" stroke="#ff0000" stroke-width="1" fill="none"/>
<polygon points="325.2,466.14 323.28,462.62 327.12,462.62" fill="#ff0000"/>
<polygon points="352.4,509.5 350.48,505.98 354.32,505.98" fill="#ff0000"/>
<polygon points="379.6,520.23 377.68,516.71 381.52,516.71" fill="#ff0000"/>
<polygon points="406.8,523.37 404.88,519.85 408.72,519.85" fill="#ff0000"/>
<polygon points="434,523.69 432.08,520.17 435.92,520.17" fill="#ff0000"/>
<polygon points="461.2,523.89 459.28,520.37 463.12,520.37" fill="#ff0000"/>
<path d="M325.2 517.52 L352.4 518.31 L379.6 520.79 L406.8 521.45 L434 521.77 L461.2 521.9" stroke="#ff8000" stroke-width="1" fill="none"/>
<polygon points="325.2,515.44 327.28,517.52 325.2,519.6 323.12,517.52" fill="#ff8000"/>
<polygon points="352.4,516.23 354.48,518.31 352.4,520.39 350.32,518.31" fill="#ff8000"/>
<polygon points="379.6,518.71 381.68,520.79 379.6,522.87 377.52,520.79" fill="#ff8000"/>
<polygon points="406.8,519.37 408.88,521.45 406.8,523.53 404.72,521.45" fill="#ff8000"/>
<polygon points="434,519.69 436.08,521.77 434,523.85 431.92,521.77" fill="#ff8000"/>
<polygon points="461.2,519.82 463.28,521.9 461.2,523.98 459.12,521.9" fill="#ff8000"/>
<path d="M325.2 521.18 L352.4 521.18 L379.6 521.18 L406.8 521.32 L434 521.45 L461.2 521.58" stroke="#8000ff" stroke-width="1" fill="none"/>
<polygon points="323.28,521.18 326.8,519.26 326.8,523.1" fill="#8000ff"/>
<polygon points="350.48,521.18 354,519.26 354,523.1" fill="#8000ff"/>
<polygon points="377.68,521.18 381.2,519.26 381.2,523.1" fill="#8000ff"/>
<polygon points="404.88,521.32 408.4,519.4 408.4,523.24" fill="#8000ff"/>
<polygon points="432.08,521.45 435.6,519.53 435.6,523.37" fill="#8000ff"/>
<polygon points="459.28,521.58 462.8,519.66 462.8,523.5" fill="#8000ff"/>
<path d="M325.2 516.48 L352.4 516.48 L379.6 518.37 L406.8 519.61 L434 520.47 L461.2 521.12" stroke="#0000ff" stroke-width="1" fill="none"/>
<polygon points="327.12,516.48 323.6,514.56 323.6,518.4" fill="#0000ff"/>
<polygon points="354.32,516.48 350.8,514.56 350.8,518.4" fill="#0000ff"/>
<polygon points="381.52,518.37 378,516.45 378,520.29" fill="#0000ff"/>
<polygon points="408.72,519.61 405.2,517.69 405.2,521.53" fill="#0000ff"/>
<polygon points="435.92,520.47 432.4,518.55 432.4,522.38" fill="#0000ff"/>
<polygon points="463.12,521.12 459.6,519.2 459.6,523.04" fill="#0000ff"/>
<path d="M325.2 422.04 L352.4 482.73 L379.6 504.77 L406.8 513.21 L434 517.33 L461.2 519.35" stroke="#ff00ff" stroke-width="1" fill="none"/>
<circle cx="325.2" cy="422.04" r="1.6" fill="#ff00ff"/>
<circle cx="352.4" cy="482.73" r="1.6" fill="#ff00ff"/>
<circle cx="379.6" cy="504.77" r="1.6" fill="#ff00ff"/>
<circle cx="406.8" cy="513.21" r="1.6" fill="#ff00ff"/>
<circle cx="434" cy="517.33" r="1.6" fill="#ff00ff"/>
<circle cx="461.2" cy="519.35" r="1.6" fill="#ff00ff"/>
<path d="M325.2 417.46 L352.4 477.17 L379.6 501.63 L406.8 511.44 L434 516.61 L461.2 518.9" stroke="#000000" stroke-width="1" fill="none"/>
<circle cx="325.2" cy="417.46" r="1.6" fill="#000000"/>
<circle cx="352.4" cy="477.17" r="1.6" fill="#000000"/>
<circle cx="379.6" cy="501.63" r="1.6" fill="#000000"/>
<circle cx="406.8" cy="511.44" r="1.6" fill="#000000"/>
<circle cx="434" cy="516.61" r="1.6" fill="#000000"/>
<circle cx="461.2" cy="518.9" r="1.6" fill="#000000"/>
<path d="M429.6 395.6H442.1" stroke="#c0c0c0" stroke-width="1"/>
<circle cx="436" cy="395.6" r="1.4" fill="#c0c0c0"/>
<text x="444" y="397.6" font-family="'Liberation Sans',Arial,sans-serif" font-weight="bold" font-size="5.6" fill="#111">H<tspan font-size="4" dy="1.5">2</tspan></text>
<path d="M429.6 404.06H442.1" stroke="#808080" stroke-width="1"/>
<circle cx="436" cy="404.06" r="1.4" fill="#808080"/>
<text x="444" y="406.06" font-family="'Liberation Sans',Arial,sans-serif" font-weight="bold" font-size="5.6" fill="#111">CO</text>
<path d="M429.6 412.52H442.1" stroke="#008000" stroke-width="1"/>
<polygon points="436,410.84 434.32,413.92 437.68,413.92" fill="#008000"/>
<text x="444" y="414.52" font-family="'Liberation Sans',Arial,sans-serif" font-weight="bold" font-size="5.6" fill="#111">CH<tspan font-size="4" dy="1.5">4</tspan></text>
<path d="M429.6 420.98H442.1" stroke="#ff0000" stroke-width="1"/>
<polygon points="436,422.66 434.32,419.58 437.68,419.58" fill="#ff0000"/>
<text x="444" y="422.98" font-family="'Liberation Sans',Arial,sans-serif" font-weight="bold" font-size="5.6" fill="#111">C<tspan font-size="4" dy="1.5">2</tspan><tspan dy="-1.5">H</tspan><tspan font-size="4" dy="1.5">4</tspan></text>
<path d="M429.6 429.44H442.1" stroke="#ff8000" stroke-width="1"/>
<polygon points="436,427.62 437.82,429.44 436,431.26 434.18,429.44" fill="#ff8000"/>
<text x="444" y="431.44" font-family="'Liberation Sans',Arial,sans-serif" font-weight="bold" font-size="5.6" fill="#111">C<tspan font-size="4" dy="1.5">2</tspan><tspan dy="-1.5">H</tspan><tspan font-size="4" dy="1.5">5</tspan><tspan dy="-1.5">O</tspan></text>
<path d="M429.6 437.9H442.1" stroke="#8000ff" stroke-width="1"/>
<polygon points="434.32,437.9 437.4,436.22 437.4,439.58" fill="#8000ff"/>
<text x="444" y="439.9" font-family="'Liberation Sans',Arial,sans-serif" font-weight="bold" font-size="5.6" fill="#111">CH<tspan font-size="4" dy="1.5">3</tspan><tspan dy="-1.5">COO</tspan><tspan font-size="4" dy="-2">−</tspan></text>
<path d="M429.6 446.36H442.1" stroke="#0000ff" stroke-width="1"/>
<polygon points="437.68,446.36 434.6,444.68 434.6,448.04" fill="#0000ff"/>
<text x="444" y="448.36" font-family="'Liberation Sans',Arial,sans-serif" font-weight="bold" font-size="5.6" fill="#111">HCOO<tspan font-size="4" dy="-2">−</tspan></text>
<path d="M429.6 454.82H442.1" stroke="#ff00ff" stroke-width="1"/>
<circle cx="436" cy="454.82" r="1.4" fill="#ff00ff"/>
<text x="444" y="456.82" font-family="'Liberation Sans',Arial,sans-serif" font-weight="bold" font-size="5.6" fill="#111">C-Based</text>
<path d="M429.6 463.28H442.1" stroke="#000000" stroke-width="1"/>
<circle cx="436" cy="463.28" r="1.4" fill="#000000"/>
<text x="444" y="465.28" font-family="'Liberation Sans',Arial,sans-serif" font-weight="bold" font-size="5.6" fill="#111">Total</text>
</g>
</svg></body></html>
